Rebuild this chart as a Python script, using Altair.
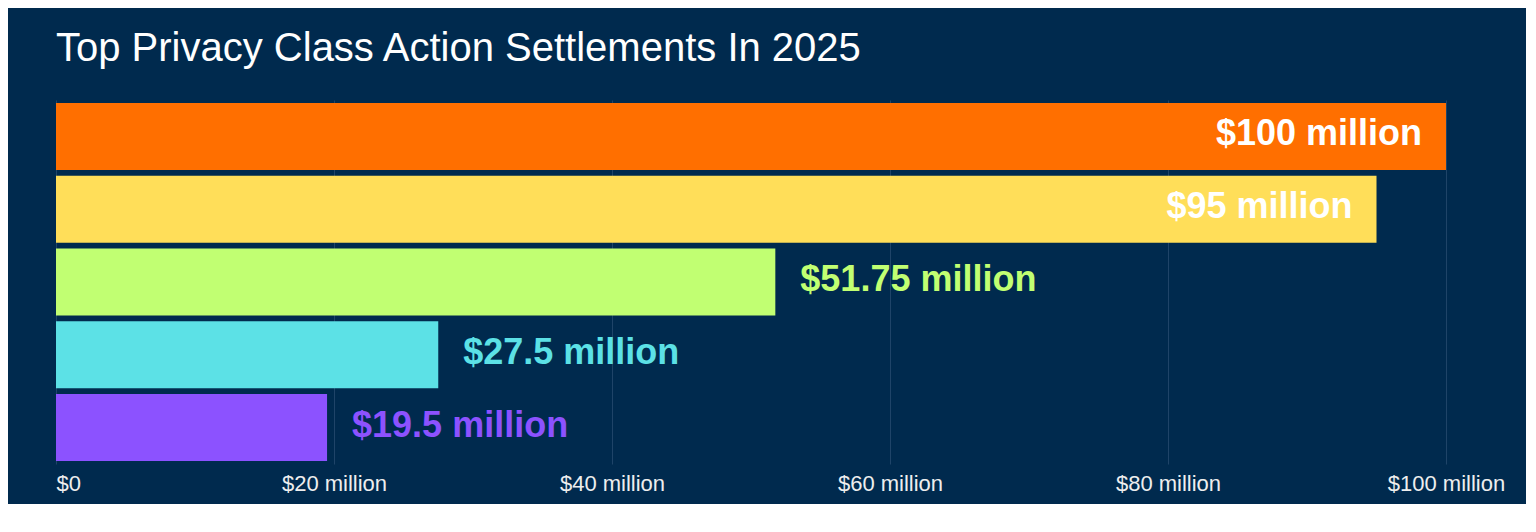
import altair as alt
import pandas as pd

ranks = ["1", "2", "3", "4", "5"]
values = [100, 95, 51.75, 27.5, 19.5]
labels = ["$100 million", "$95 million", "$51.75 million", "$27.5 million", "$19.5 million"]
bar_colors = ["#FF6F00", "#FFDE59", "#C1FF72", "#5CE1E6", "#8C52FF"]
label_colors = ["#FFFFFF", "#FFFFFF", "#C1FF72", "#5CE1E6", "#8C52FF"]
inside = [True, True, False, False, False]
x_ticks = [0, 20, 40, 60, 80, 100]

df = pd.DataFrame({
    "rank": ranks,
    "value": values,
    "label": labels,
    "bar_color": bar_colors,
    "label_color": label_colors,
    "inside": inside,
})

FONT = "Liberation Sans"
BG = "#002A4E"

y_enc = alt.Y("rank:N", sort=ranks, axis=None,
              scale=alt.Scale(paddingInner=0.08, paddingOuter=0.04))
x_enc = alt.X(
    "value:Q",
    scale=alt.Scale(domain=[0, 100], nice=False),
    axis=alt.Axis(
        values=x_ticks,
        title=None,
        domain=False,
        ticks=False,
        grid=True,
        gridColor="#1F4468",
        gridWidth=1,
        labelFont=FONT,
        labelFontSize=22,
        labelColor="#EEEEEE",
        labelPadding=9,
        labelExpr="datum.value == 0 ? '$0' : '$' + datum.value + ' million'",
        labelAlign={"condition": {"test": "datum.value == 0", "value": "left"}, "value": "center"},
    ),
)

bars = alt.Chart(df).mark_bar().encode(
    x=x_enc,
    y=y_enc,
    color=alt.Color("bar_color:N", scale=None),
)

text_in = alt.Chart(df).transform_filter("datum.inside").mark_text(
    align="right", baseline="middle", dx=-24, dy=-2, font=FONT, fontWeight="bold", fontSize=36
).encode(
    x="value:Q",
    y=alt.Y("rank:N", sort=ranks),
    text="label:N",
    color=alt.Color("label_color:N", scale=None),
)

text_out = alt.Chart(df).transform_filter("!datum.inside").mark_text(
    align="left", baseline="middle", dx=25, dy=-2, font=FONT, fontWeight="bold", fontSize=36
).encode(
    x="value:Q",
    y=alt.Y("rank:N", sort=ranks),
    text="label:N",
    color=alt.Color("label_color:N", scale=None),
)

chart = alt.layer(bars, text_in, text_out).properties(
    width=1390,
    height=364,
    background=BG,
    padding={"left": 48, "top": 92, "right": 80, "bottom": 40},
    autosize=alt.AutoSizeParams(type="none"),
    title=alt.TitleParams(
        "Top Privacy Class Action Settlements In 2025",
        anchor="start",
        font=FONT,
        fontSize=40,
        fontWeight="normal",
        color="#FFFFFF",
        offset=31,
    ),
).configure_view(stroke=None)

chart.save("out.html", embed_options={"renderer": "svg", "actions": False})
